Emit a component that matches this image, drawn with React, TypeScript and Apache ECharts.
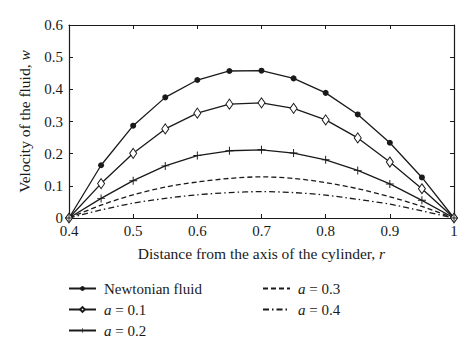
import React, { useEffect, useRef } from "react";
import * as echarts from "echarts";

const rValues = [0.4, 0.45, 0.5, 0.55, 0.6, 0.65, 0.7, 0.75, 0.8, 0.85, 0.9, 0.95, 1.0];
const newtonian = [0, 0.164, 0.287, 0.375, 0.429, 0.457, 0.458, 0.434, 0.389, 0.322, 0.234, 0.126, 0];
const a01 = [0, 0.107, 0.201, 0.277, 0.326, 0.354, 0.358, 0.341, 0.305, 0.249, 0.174, 0.091, 0];
const a02 = [0, 0.061, 0.116, 0.162, 0.194, 0.209, 0.212, 0.202, 0.181, 0.148, 0.106, 0.055, 0];
const a03 = [0, 0.04, 0.072, 0.096, 0.112, 0.123, 0.128, 0.123, 0.11, 0.091, 0.066, 0.036, 0];
const a04 = [0, 0.025, 0.046, 0.061, 0.072, 0.079, 0.082, 0.079, 0.071, 0.058, 0.043, 0.022, 0];
const seriesNames = ["Newtonian fluid", "a = 0.1", "a = 0.2", "a = 0.3", "a = 0.4"];
const xTitle = "Distance from the axis of the cylinder, ";
const yTitle = "Velocity of the fluid, ";

const FONT = "'Liberation Serif', 'DejaVu Serif', serif";
const INK = "#1a1a1a";
const FS = 15;
const FS_NAME = 15.5;

const pairs = (ys: number[]) => rValues.map((x, i) => [x, ys[i]]);

export default function App() {
  const ref = useRef<HTMLDivElement>(null);
  useEffect(() => {
    if (!ref.current) return;
    const chart = echarts.init(ref.current, undefined, { renderer: "svg" });
    const rich = { i: { fontStyle: "italic", fontFamily: FONT, fontSize: FS, color: INK } };
    const richName = { i: { fontStyle: "italic", fontFamily: FONT, fontSize: FS_NAME, color: INK } };
    const axisCommon = {
      axisLine: { show: true, onZero: false, lineStyle: { color: INK, width: 1.2 } },
      axisTick: { show: true, inside: true, length: 4, lineStyle: { color: INK, width: 1 } },
      splitLine: { show: false },
    };
    const lineBase = { color: INK, width: 1.3 };
    const legendText = { fontFamily: FONT, fontSize: FS, color: INK, lineHeight: 17, padding: [0, 0, 0, 3], rich };
    const legendFmt = (n: string) => (n.startsWith("a") ? "{i|a}" + n.slice(1) : n);
    const hiddenSym = { color: "rgba(0,0,0,0)", borderWidth: 0, opacity: 0 };
    const option: any = {
      animation: false,
      backgroundColor: "#ffffff",
      textStyle: { fontFamily: FONT, color: INK },
      grid: { left: 69, right: 20, top: 25, bottom: 136 },
      xAxis: [
        {
          type: "value",
          min: 0.4,
          max: 1,
          interval: 0.1,
          position: "bottom",
          ...axisCommon,
          axisLabel: {
            margin: 5,
            fontFamily: FONT,
            fontSize: FS,
            color: INK,
            formatter: (v: number) => String(+v.toFixed(1)),
          },
          name: xTitle + "{i|r}",
          nameLocation: "middle",
          nameGap: 27,
          nameTextStyle: { fontFamily: FONT, fontSize: FS_NAME, color: INK, rich: richName },
        },
        {
          type: "value",
          min: 0.4,
          max: 1,
          interval: 0.1,
          position: "top",
          ...axisCommon,
          axisLabel: { show: false },
        },
      ],
      yAxis: [
        {
          type: "value",
          min: 0,
          max: 0.6,
          interval: 0.1,
          position: "left",
          ...axisCommon,
          axisLabel: {
            margin: 6,
            fontFamily: FONT,
            fontSize: FS,
            color: INK,
            formatter: (v: number) => String(+v.toFixed(1)),
          },
          name: yTitle + "{i|w}",
          nameLocation: "middle",
          nameGap: 37,
          nameRotate: 90,
          nameTextStyle: { fontFamily: FONT, fontSize: FS_NAME, color: INK, rich: richName },
        },
        {
          type: "value",
          min: 0,
          max: 0.6,
          interval: 0.1,
          position: "right",
          ...axisCommon,
          axisLabel: { show: false },
        },
      ],
      legend: [
        {
          data: seriesNames.slice(0, 3),
          orient: "vertical",
          left: 63,
          top: 275,
          itemWidth: 27,
          itemHeight: 6,
          itemGap: 4,
          textStyle: legendText,
          formatter: legendFmt,
        },
        {
          data: seriesNames.slice(3).map((n) => ({ name: n, itemStyle: hiddenSym })),
          orient: "vertical",
          left: 257,
          top: 275,
          itemWidth: 27,
          itemHeight: 6,
          itemGap: 4,
          textStyle: legendText,
          formatter: legendFmt,
        },
      ],
      series: [
        {
          name: seriesNames[0],
          type: "line",
          data: pairs(newtonian),
          symbol: "circle",
          symbolSize: 6,
          lineStyle: lineBase,
          itemStyle: { color: INK, borderColor: INK, borderWidth: 0 },
        },
        {
          name: seriesNames[1],
          type: "line",
          data: pairs(a01),
          symbol: "diamond",
          symbolSize: [7, 10],
          lineStyle: lineBase,
          itemStyle: { color: "#ffffff", borderColor: INK, borderWidth: 1 },
        },
        {
          name: seriesNames[2],
          type: "line",
          data: pairs(a02),
          symbol: "path://M4.4,0H5.6V4.4H10V5.6H5.6V10H4.4V5.6H0V4.4H4.4Z",
          symbolSize: 8,
          lineStyle: lineBase,
          itemStyle: { color: INK, borderWidth: 0 },
        },
        {
          name: seriesNames[3],
          type: "line",
          data: pairs(a03),
          symbol: "none",
          smooth: 0.3,
          lineStyle: { ...lineBase, type: [5, 3] },
          itemStyle: { color: INK },
        },
        {
          name: seriesNames[4],
          type: "line",
          data: pairs(a04),
          symbol: "none",
          smooth: 0.3,
          lineStyle: { ...lineBase, type: [6, 3, 1.5, 3] },
          itemStyle: { color: INK },
        },
      ],
    };
    chart.setOption(option);
    return () => chart.dispose();
  }, []);
  return <div ref={ref} style={{ width: 474, height: 354, position: "absolute", left: 0, top: 0 }} />;
}
